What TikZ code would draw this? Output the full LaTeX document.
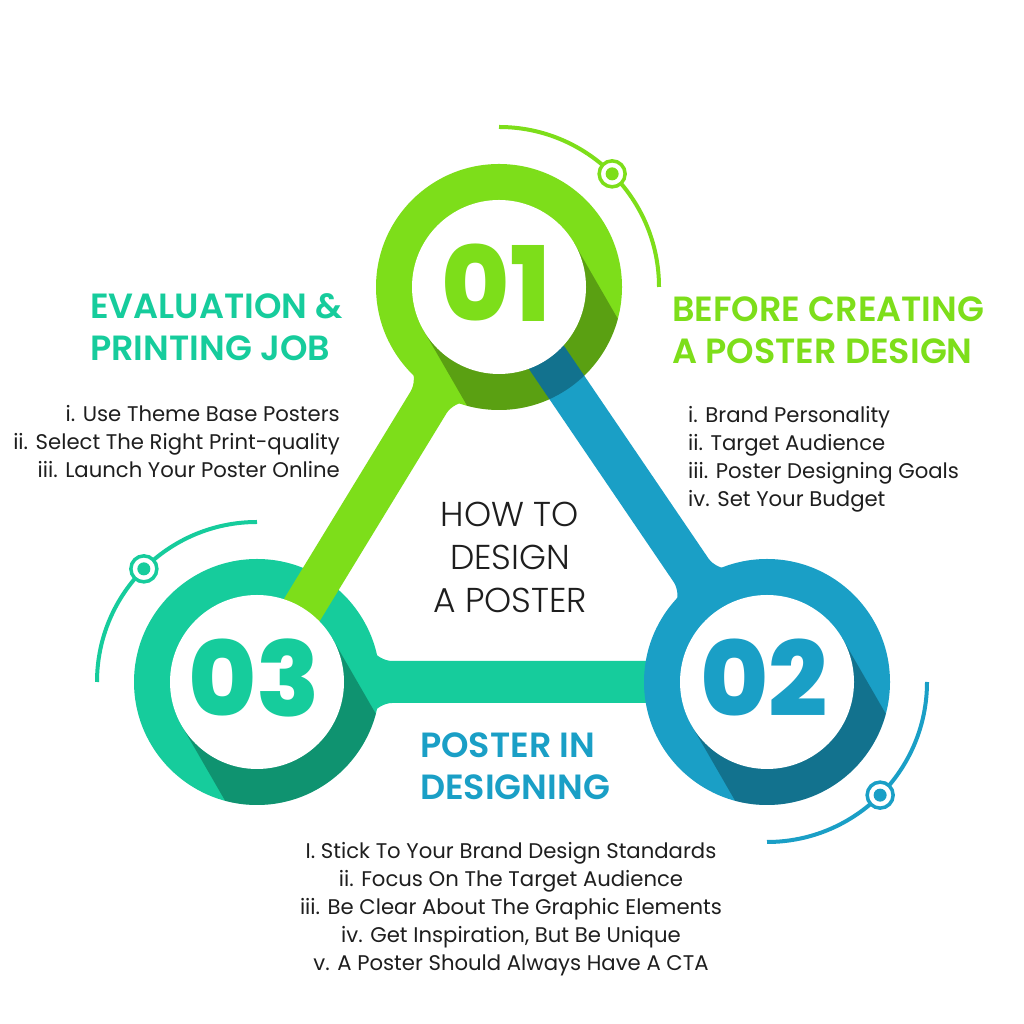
\documentclass[tikz,border=0pt]{standalone}
\usepackage{fontspec}
\setmainfont{Poppins}
\newfontfamily\headfont{Poppins SemiBold}
\newfontfamily\numfont{Poppins ExtraBold}
\newfontfamily\thinfont{Poppins Light}
\usetikzlibrary{positioning}
\definecolor{limeA}{HTML}{7DDE1A}
\definecolor{tealA}{HTML}{16CC9C}
\definecolor{blueA}{HTML}{1A9FC6}
\definecolor{inkA}{HTML}{1E1E1E}

\begin{document}
\begin{tikzpicture}[x=1pt, y=1pt, inner sep=0pt, every node/.style={text=inkA}]%

            \tikzstyle{ring}   = [ circle, inner sep = 0pt, minimum size = 246pt]
            \tikzstyle{hole}   = [ circle, fill = white, inner sep = 0pt, minimum size = 174pt]
            \tikzstyle{num}    = [ font = \numfont\fontsize{104}{104}\selectfont, xshift = -3pt, yshift = 4pt]
            \tikzstyle{head}   = [ font = \headfont\fontsize{35}{42}\selectfont, align = left]
            \tikzstyle{items}  = [ font = \fontsize{21.2}{28}\selectfont]
            \tikzstyle{orbit}  = [ line width = 4pt]
            \tikzstyle{pin}    = [ circle, draw, line width = 3.5pt, fill = white, minimum size = 26pt]
            \tikzstyle{pindot} = [ circle, minimum size = 13pt]
            \tikzstyle{shade}  = [ fill = black, fill opacity = 0.28]
            \tikzstyle{arm}    = [ rounded corners = 14pt]
        %
            \fill [white] (0,0) rectangle (1024,1024);
            \useasboundingbox (0,0) rectangle (1024,1024);

            %% Step 03 and its arm
            \node [ring, fill = tealA] (c3) at (257,342) {};
            \begin{scope}[shift = {(c3.center)}]
                \fill [tealA, arm] (0,0) -- (50:123) -- (121.2,21) -- (510,21) -- (510,-21) -- (121.2,-21) -- (-50:123) -- cycle;
            \end{scope}

            %% Step 01 and its arm
            \node [ring, fill = limeA] (c1) at (499,737) {};
            \begin{scope}[shift = {(c1.center)}, rotate = 238.6]
                \fill [limeA, arm] (0,0) -- (50:123) -- (121.2,21) -- (465,21) -- (465,-21) -- (121.2,-21) -- (-50:123) -- cycle;
            \end{scope}

            %% Step 02 and its arm
            \node [ring, fill = blueA] (c2) at (767,342) {};
            \begin{scope}[shift = {(c2.center)}, rotate = 124.2]
                \fill [blueA, arm] (0,0) -- (50:123) -- (121.2,21) -- (477,21) -- (477,-21) -- (121.2,-21) -- (-50:123) -- cycle;
            \end{scope}

            %% Long shadows
            \foreach \c in {c1, c2, c3} {
                \begin{scope}[shift = {(\c.center)}]
                    \clip (0,0) circle (123);
                    \fill [shade, rotate = -60] (0,-87) rectangle (220,87);
                \end{scope}
            }

            %% White holes and numbers
            \node [hole] (h1) at (c1) {};
            \node [hole] (h2) at (c2) {};
            \node [hole] (h3) at (c3) {};
            \node [num, text = limeA] (n1) at (c1) {01};
            \node [num, text = blueA] (n2) at (c2) {02};
            \node [num, text = tealA] (n3) at (c3) {03};

            %% Orbits with pins
            \draw [orbit, limeA] (c1.center) ++(90:160) arc (90:0:160);
            \draw [orbit, blueA] (c2.center) ++(0:160) arc (0:-90:160);
            \draw [orbit, tealA] (c3.center) ++(90:160) arc (90:180:160);
            \node [pin, draw = limeA] (p1) at ([shift = {(45:160)}]c1.center) {};
            \node [pin, draw = blueA] (p2) at ([shift = {(-45:160)}]c2.center) {};
            \node [pin, draw = tealA] (p3) at ([shift = {(135:160)}]c3.center) {};
            \node [pindot, fill = limeA] at (p1) {};
            \node [pindot, fill = blueA] at (p2) {};
            \node [pindot, fill = tealA] at (p3) {};

            %% Title
            \node [font = \thinfont\fontsize{34.5}{43}\selectfont, align = center, anchor = north] (title) at (510,522) {HOW TO\\DESIGN\\A POSTER};

            %% Headings
            \node [head, text = tealA, anchor = north west] (evalhead) at (90,731) {EVALUATION \&\\PRINTING JOB};
            \node [head, text = limeA, anchor = north west] (beforehead) at (672,727) {BEFORE CREATING\\A POSTER DESIGN};
            \node [head, text = blueA, anchor = north west] (designhead) at (420,291) {POSTER IN\\DESIGNING};

            %% Lists
            \node [items, align = right, anchor = north east] (evallist) at (340,619) {i. Use Theme Base Posters\\ii. Select The Right Print-quality\\iii. Launch Your Poster Online};
            \node [items, align = left, anchor = north west] (beforelist) at (688,618) {i. Brand Personality\\ii. Target Audience\\iii. Poster Designing Goals\\iv. Set Your Budget};
            \node [items, align = center, anchor = north] (designlist) at (511,182) {I. Stick To Your Brand Design Standards\\ii. Focus On The Target Audience\\iii. Be Clear About The Graphic Elements\\iv. Get Inspiration, But Be Unique\\v. A Poster Should Always Have A CTA};
        \end{tikzpicture}
\end{document}
